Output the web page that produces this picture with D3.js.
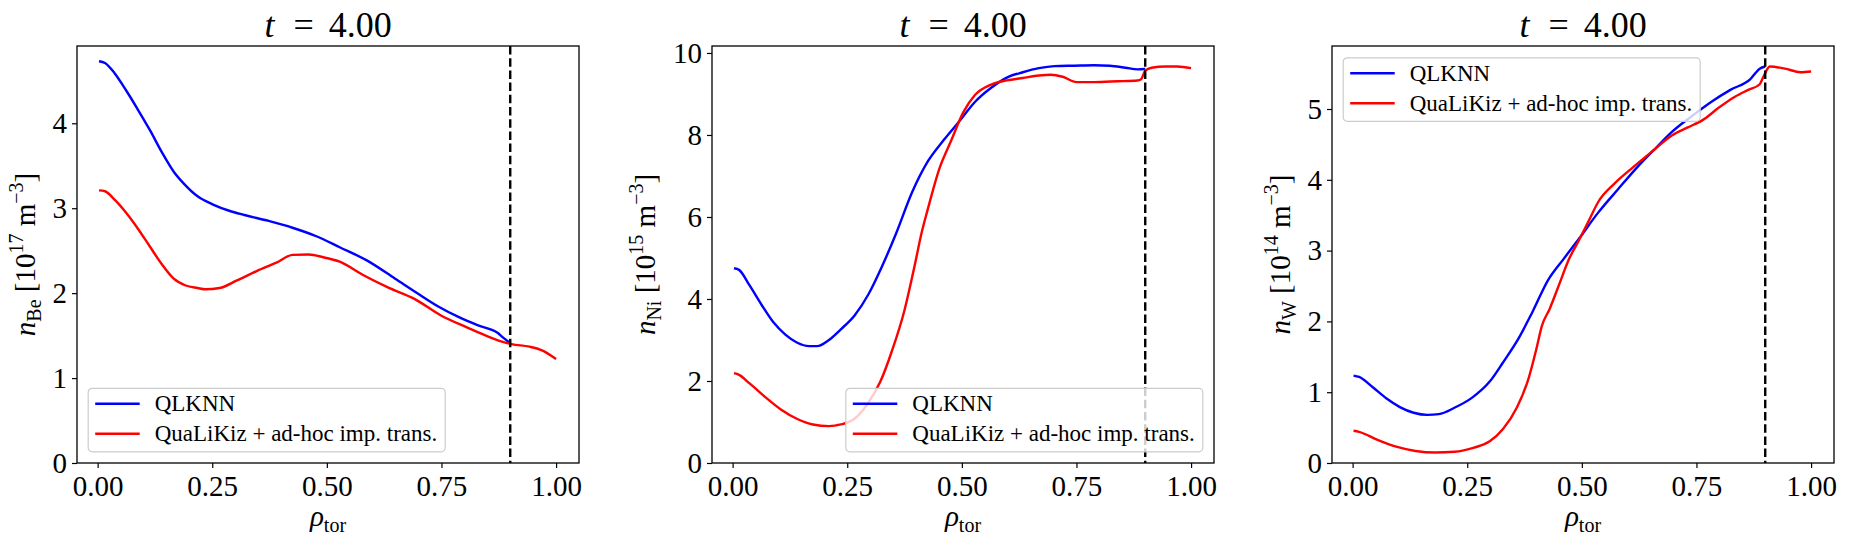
<!DOCTYPE html>
<html><head><meta charset="utf-8">
<script src="https://cdn.jsdelivr.net/npm/d3@7"></script>
<style>
body{margin:0;background:#fff}
svg{display:block}
text{font-family:"Liberation Serif","Times New Roman",serif;fill:#000}
</style>
</head><body>
<svg id="c" width="1850" height="549" font-family='"Liberation Serif", serif'></svg>
<script>
// ---------- data ----------
const xTicks = [0, 0.25, 0.5, 0.75, 1.0];
const xTickLabels = ["0.00", "0.25", "0.50", "0.75", "1.00"];
const titleText = "4.00";
const seriesNames = ["QLKNN", "QuaLiKiz + ad-hoc imp. trans."];
const rhoBoundary = 0.9;

// Be
const rhoBeQ = [0.003,0.016,0.037,0.063,0.089,0.115,0.14,0.166,0.188,0.218,0.253,0.287,0.32,0.373,0.425,0.477,0.528,0.589,0.649,0.70,0.744,0.787,0.83,0.873,0.886,0.9];
const nBeQ   = [4.73,4.71,4.59,4.38,4.15,3.91,3.66,3.43,3.29,3.14,3.04,2.97,2.92,2.85,2.77,2.67,2.54,2.38,2.17,1.99,1.84,1.72,1.62,1.53,1.47,1.41];
const rhoBeR = [0.003,0.016,0.037,0.063,0.089,0.115,0.14,0.166,0.192,0.218,0.235,0.266,0.304,0.347,0.39,0.425,0.46,0.494,0.528,0.58,0.632,0.692,0.748,0.804,0.847,0.882,0.903,0.942,0.968,1.0];
const nBeR   = [3.21,3.20,3.10,2.94,2.75,2.54,2.34,2.17,2.09,2.06,2.045,2.06,2.15,2.26,2.36,2.45,2.455,2.42,2.37,2.21,2.07,1.93,1.74,1.60,1.50,1.43,1.40,1.37,1.33,1.225];
const yTicksBe = [0,1,2,3,4];

// Ni
const rhoNiQ = [0.003,0.014,0.037,0.063,0.089,0.115,0.14,0.167,0.184,0.21,0.236,0.266,0.296,0.326,0.357,0.391,0.426,0.46,0.495,0.529,0.564,0.598,0.633,0.668,0.702,0.745,0.788,0.823,0.857,0.883,0.9];
const nNiQ   = [4.75,4.71,4.33,3.86,3.43,3.13,2.94,2.85,2.85,3.00,3.26,3.60,4.11,4.80,5.61,6.59,7.36,7.87,8.34,8.81,9.15,9.40,9.53,9.63,9.68,9.69,9.70,9.69,9.64,9.60,9.61];
const rhoNiR = [0.003,0.014,0.037,0.072,0.106,0.14,0.175,0.21,0.236,0.266,0.296,0.322,0.348,0.374,0.395,0.413,0.425,0.451,0.477,0.503,0.529,0.564,0.598,0.633,0.668,0.694,0.72,0.75,0.788,0.84,0.883,0.891,0.9,0.914,0.944,0.97,1.0];
const nNiR   = [2.19,2.15,1.94,1.60,1.30,1.08,0.94,0.90,0.94,1.08,1.47,1.98,2.75,3.69,4.71,5.65,6.16,7.18,7.87,8.55,8.98,9.23,9.33,9.39,9.45,9.47,9.42,9.29,9.29,9.31,9.33,9.36,9.57,9.64,9.67,9.67,9.63];
const yTicksNi = [0,2,4,6,8,10];

// W
const rhoWQ = [0.002,0.014,0.044,0.074,0.103,0.133,0.163,0.188,0.222,0.26,0.299,0.328,0.362,0.392,0.426,0.46,0.494,0.536,0.578,0.621,0.663,0.697,0.74,0.782,0.824,0.867,0.888,0.9];
const nWQ   = [1.235,1.215,1.07,0.91,0.79,0.71,0.68,0.69,0.78,0.92,1.15,1.42,1.76,2.13,2.58,2.88,3.17,3.54,3.86,4.18,4.46,4.68,4.90,5.10,5.27,5.42,5.57,5.60];
const rhoWR = [0.002,0.014,0.053,0.095,0.137,0.18,0.222,0.265,0.299,0.328,0.358,0.384,0.4,0.413,0.43,0.451,0.472,0.494,0.515,0.536,0.57,0.612,0.655,0.697,0.731,0.765,0.799,0.833,0.863,0.888,0.897,0.91,0.943,0.977,1.0];
const nWR   = [0.455,0.44,0.33,0.23,0.17,0.148,0.158,0.217,0.306,0.48,0.78,1.20,1.59,1.94,2.18,2.53,2.88,3.15,3.42,3.69,3.94,4.18,4.41,4.63,4.74,4.85,5.02,5.17,5.27,5.35,5.47,5.60,5.57,5.52,5.53];
const yTicksW = [0,1,2,3,4,5];

// ---------- layout ----------
const panels = [
  {left:77,  top:46, w:502, h:417, ymax:4.91,  species:"Be", yTicks:yTicksBe,
   q:[rhoBeQ,nBeQ], r:[rhoBeR,nBeR], legend:"ll", ylabOff:42, exp:"17"},
  {left:712, top:46, w:502, h:417, ymax:10.17, species:"Ni", yTicks:yTicksNi,
   q:[rhoNiQ,nNiQ], r:[rhoNiR,nNiR], legend:"lr", ylabOff:57, exp:"15"},
  {left:1332,top:46, w:502, h:417, ymax:5.89,  species:"W",  yTicks:yTicksW,
   q:[rhoWQ,nWQ], r:[rhoWR,nWR], legend:"ul", ylabOff:42, exp:"14"}
];

const svg = d3.select("#c");
const FS = 29;
const SERIF = '"Liberation Serif", "Times New Roman", serif';

panels.forEach(p => {
  const g = svg.append("g").attr("transform", `translate(${p.left},${p.top})`);
  const x = d3.scaleLinear().domain([-0.045, 1.05]).range([0, p.w]);
  const y = d3.scaleLinear().domain([0, p.ymax]).range([p.h, 0]);

  const clipId = "clip" + p.species;
  g.append("clipPath").attr("id", clipId).append("rect").attr("width", p.w).attr("height", p.h);

  const line = d3.line().x(d => x(d[0])).y(d => y(d[1])).curve(d3.curveMonotoneX);
  const toPts = arr => arr[0].map((v,i) => [v, arr[1][i]]);

  const plot = g.append("g").attr("clip-path", `url(#${clipId})`);
  plot.append("path").attr("d", line(toPts(p.q))).attr("fill","none").attr("stroke","#0000ff").attr("stroke-width",2.4).attr("stroke-linejoin","round");
  plot.append("path").attr("d", line(toPts(p.r))).attr("fill","none").attr("stroke","#ff0000").attr("stroke-width",2.4).attr("stroke-linejoin","round");

  // boundary dashed line
  g.append("line").attr("x1", x(rhoBoundary)).attr("x2", x(rhoBoundary))
    .attr("y1", 0).attr("y2", p.h)
    .attr("stroke","#000").attr("stroke-width",2.4).attr("stroke-dasharray","8.5,3.7");

  // axes
  const xa = g.append("g").attr("transform", `translate(0,${p.h})`)
    .call(d3.axisBottom(x).tickValues(xTicks).tickFormat((d,i)=>xTickLabels[i]).tickSize(5).tickPadding(7).tickSizeOuter(0));
  const ya = g.append("g")
    .call(d3.axisLeft(y).tickValues(p.yTicks).tickFormat(d3.format("d")).tickSize(5).tickPadding(5).tickSizeOuter(0));
  [xa, ya].forEach(a => {
    a.attr("font-family", SERIF).attr("font-size", null);
    a.select(".domain").remove();
    a.selectAll("line").attr("stroke","#000").attr("stroke-width",1.2);
    a.selectAll("text").attr("font-size", FS).attr("font-family", SERIF).attr("fill","#000");
  });

  // frame
  g.append("rect").attr("x",0).attr("y",0).attr("width",p.w).attr("height",p.h)
    .attr("fill","none").attr("stroke","#000").attr("stroke-width",1.3);

  // title
  const t = g.append("text").attr("x", p.w/2 - 63.5).attr("y", -9).attr("font-size", 36).attr("font-family", SERIF);
  t.append("tspan").attr("font-style","italic").text("t");
  t.append("tspan").attr("dx", 19).text("=");
  t.append("tspan").attr("dx", 15).text(titleText);

  // x label
  const xl = g.append("text").attr("x", p.w/2).attr("y", p.h + 63).attr("text-anchor","middle").attr("font-size", FS).attr("font-family", SERIF);
  xl.append("tspan").attr("font-style","italic").text("ρ");
  xl.append("tspan").attr("font-size", 20).attr("dy", 6).text("tor");

  // y label
  const yl = g.append("text").attr("transform", `translate(${-p.ylabOff},${p.h/2}) rotate(-90)`)
    .attr("text-anchor","middle").attr("font-size", FS).attr("font-family", SERIF);
  yl.append("tspan").attr("font-style","italic").text("n");
  yl.append("tspan").attr("font-size",20).attr("dy",6).text(p.species);
  yl.append("tspan").attr("dy",-6).text(" [10");
  yl.append("tspan").attr("font-size",20).attr("dy",-12).text(p.exp);
  yl.append("tspan").attr("dy",12).text(" m");
  yl.append("tspan").attr("font-size",20).attr("dy",-12).text("−3");
  yl.append("tspan").attr("dy",12).text("]");

  // legend
  const LW = 358, LH = 64.5, pad = 10.7;
  let lx, ly;
  if (p.legend === "ll") { lx = pad; ly = p.h - pad - LH; }
  else if (p.legend === "lr") { lx = p.w - pad - LW; ly = p.h - pad - LH; }
  else { lx = pad; ly = 11.3; }
  const lg = g.append("g").attr("transform", `translate(${lx},${ly})`);
  lg.append("rect").attr("x",0.5).attr("y",0.5).attr("width",LW-1).attr("height",LH-1).attr("rx",4).attr("ry",4)
    .attr("fill","#fff").attr("fill-opacity",0.8).attr("stroke","#cccccc").attr("stroke-width",1.2);
  const colors = ["#0000ff", "#ff0000"];
  seriesNames.forEach((name, i) => {
    const cy = 16 + i*30;
    lg.append("line").attr("x1",7.5).attr("x2",52).attr("y1",cy).attr("y2",cy)
      .attr("stroke",colors[i]).attr("stroke-width",2.4);
    lg.append("text").attr("x",67).attr("y",cy+7.5).attr("font-size",23).attr("font-family", SERIF).text(name);
  });
});
</script>
</body></html>
